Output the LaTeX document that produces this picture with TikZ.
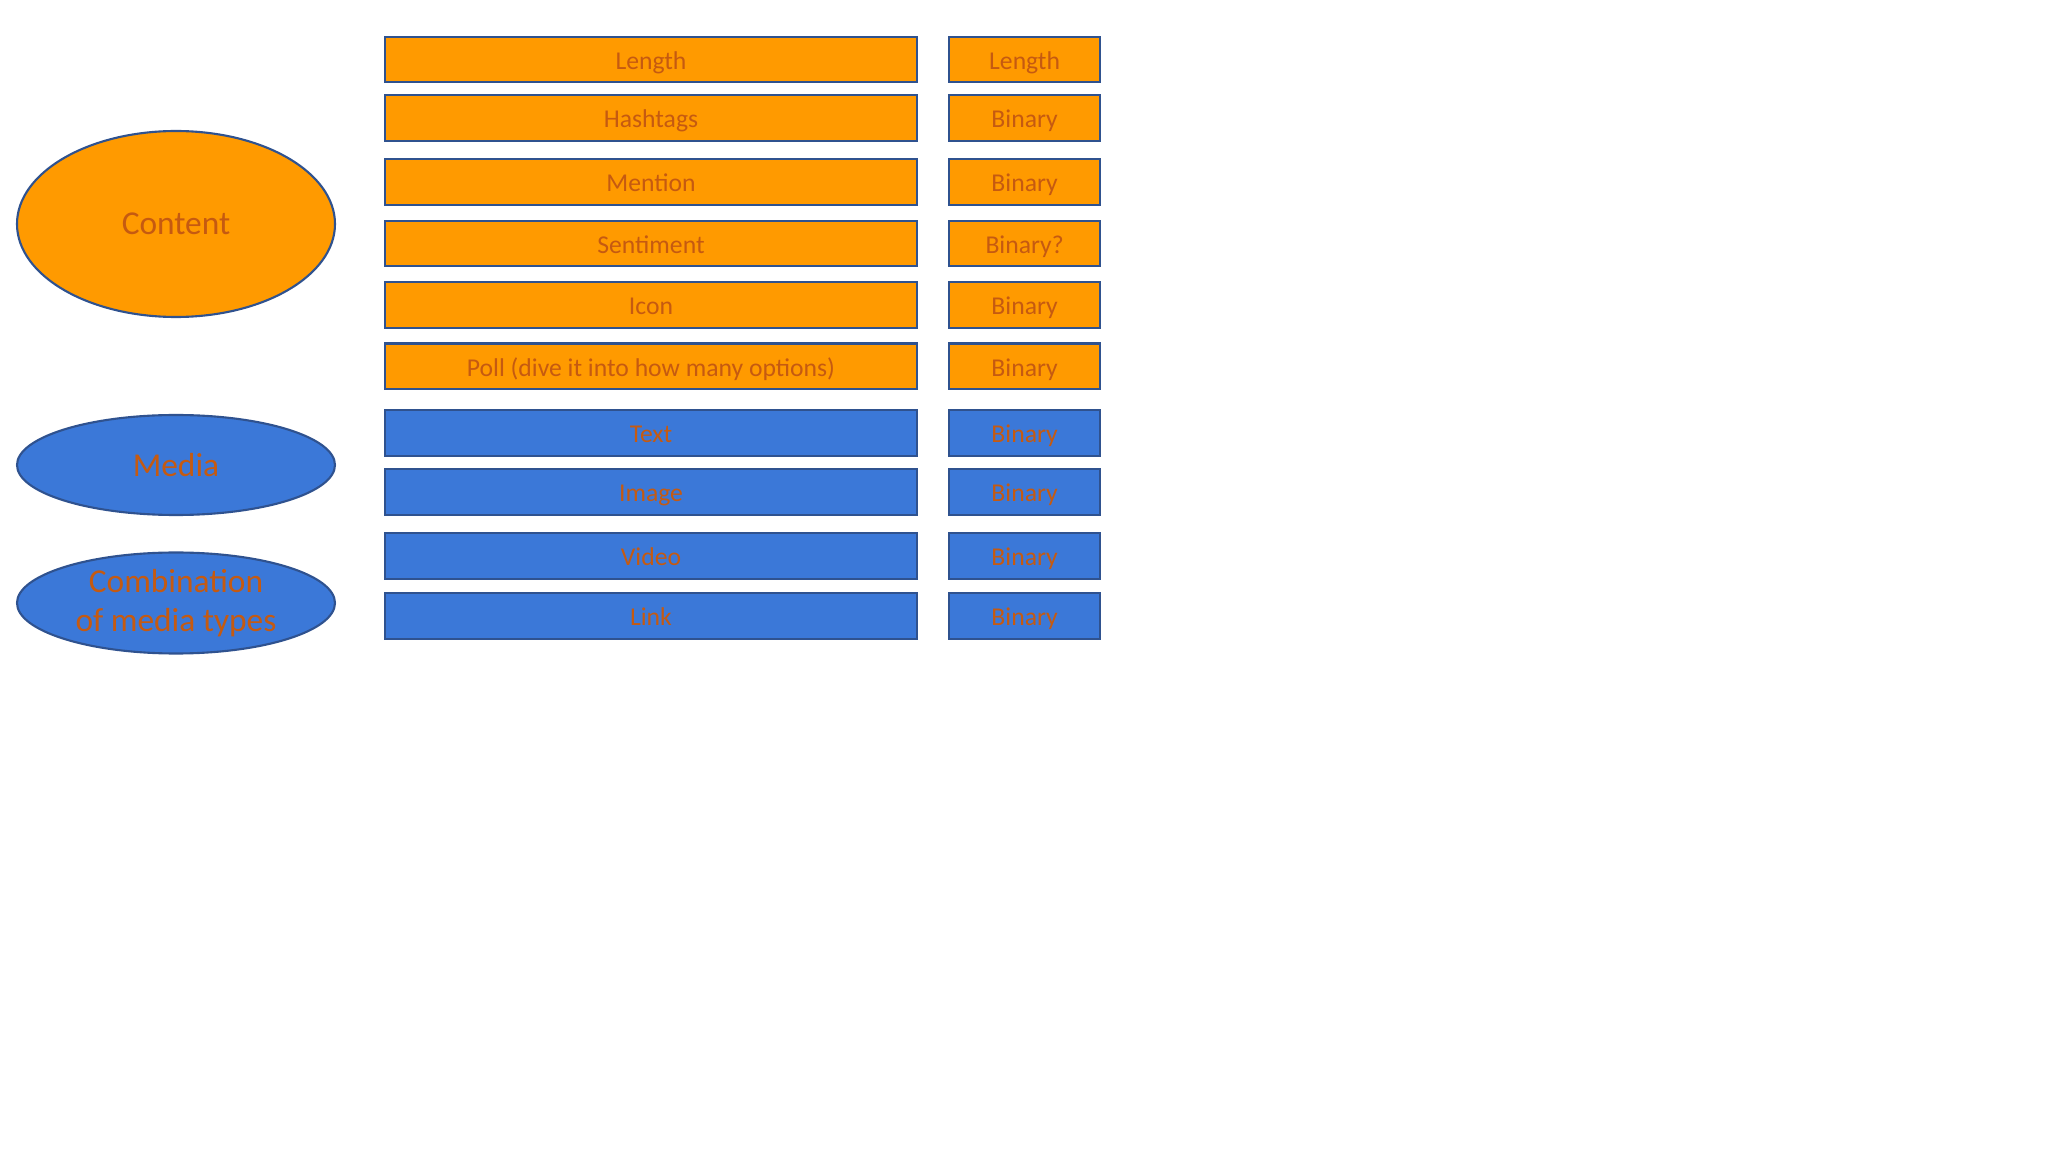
\documentclass[tikz,border=0pt]{standalone}
\usepackage{fontspec}
\setmainfont{Carlito}
\usetikzlibrary{shapes,positioning}
\usepackage{xcolor}
\definecolor{featorange}{RGB}{255,154,0}
\definecolor{featblue}{RGB}{59,120,216}
\definecolor{edgeblue}{RGB}{47,82,143}
\definecolor{labelbrown}{RGB}{197,90,17}

\begin{document}
\begin{tikzpicture}[
    feature/.style={rectangle, draw=edgeblue, line width=0.6pt, text=labelbrown, minimum width=5.32cm, minimum height=0.457cm, inner sep=0pt, text height=1.3ex, text depth=0.15ex, font=\fontsize{7.3}{8.8}\selectfont},
    valtype/.style={feature, minimum width=1.51cm},
    group/.style={ellipse, draw=edgeblue, line width=0.6pt, text=labelbrown, minimum width=3.18cm, align=center, font=\fontsize{9.5}{11}\selectfont}]
    \useasboundingbox (0,0) rectangle (20.48,-11.52);
    % groups
    \node [group, fill=featorange, minimum height=1.86cm] (content) at (1.76,-2.24) {Content};
    \node [group, fill=featblue, minimum height=1.0cm] (media) at (1.76,-4.65) {Media};
    \node [group, fill=featblue, minimum height=1.01cm, inner sep=0pt] (combo) at (1.76,-6.03) {Combination\\of media types};
    % content features
    \node [feature, fill=featorange] (length) at (6.51,-0.595) {Length};
    \node [feature, fill=featorange] (hashtags) at (6.51,-1.18) {Hashtags};
    \node [feature, fill=featorange] (mention) at (6.51,-1.82) {Mention};
    \node [feature, fill=featorange] (sentiment) at (6.51,-2.435) {Sentiment};
    \node [feature, fill=featorange] (icon) at (6.51,-3.05) {Icon};
    \node [feature, fill=featorange] (poll) at (6.51,-3.664) {Poll (dive it into how many options)};
    % media features
    \node [feature, fill=featblue] (text) at (6.51,-4.33) {Text};
    \node [feature, fill=featblue] (image) at (6.51,-4.918) {Image};
    \node [feature, fill=featblue] (video) at (6.51,-5.558) {Video};
    \node [feature, fill=featblue] (link) at (6.51,-6.16) {Link};
    % value types
    \node [valtype, fill=featorange, right=0.30cm of length] (lengthval) {Length};
    \node [valtype, fill=featorange, right=0.30cm of hashtags] (hashtagsval) {Binary};
    \node [valtype, fill=featorange, right=0.30cm of mention] (mentionval) {Binary};
    \node [valtype, fill=featorange, right=0.30cm of sentiment] (sentimentval) {Binary?};
    \node [valtype, fill=featorange, right=0.30cm of icon] (iconval) {Binary};
    \node [valtype, fill=featorange, right=0.30cm of poll] (pollval) {Binary};
    \node [valtype, fill=featblue, right=0.30cm of text] (textval) {Binary};
    \node [valtype, fill=featblue, right=0.30cm of image] (imageval) {Binary};
    \node [valtype, fill=featblue, right=0.30cm of video] (videoval) {Binary};
    \node [valtype, fill=featblue, right=0.30cm of link] (linkval) {Binary};
\end{tikzpicture}
\end{document}
